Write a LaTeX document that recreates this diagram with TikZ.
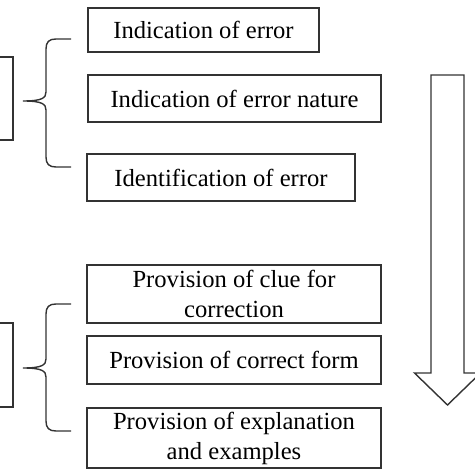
\documentclass[tikz,border=0pt]{standalone}
\usepackage{fontspec}
\setmainfont{Liberation Serif}
\usepackage{tikz}
\usetikzlibrary{shapes, positioning}

\begin{document}
\begin{tikzpicture}[x=0.5pt, y=-0.5pt,
        stage/.style={rectangle, draw=black!80, line width=0.7pt, inner sep=0pt, align=center,
            font=\fontsize{12.3}{15}\selectfont},
        stub/.style={rectangle, draw=black!80, line width=0.7pt, minimum width=21.5pt},
        curly/.style={draw=black!80, line width=0.7pt}]
        \useasboundingbox (0, 0) rectangle (474, 474);

        \node[stage, minimum width=115.5pt, minimum height=22pt] (indicate) at (203.5, 30) {Indication of error};
        \node[stage, minimum width=146.5pt, minimum height=23.5pt] (nature) at (234.5, 98.5) {Indication of error nature};
        \node[stage, minimum width=134pt, minimum height=23.5pt] (identify) at (221, 177.5) {Identification of error};
        \node[stage, minimum width=147pt, minimum height=29pt] (clue) at (234, 294) {Provision of clue for\\correction};
        \node[stage, minimum width=147pt, minimum height=24pt] (form) at (234, 360) {Provision of correct form};
        \node[stage, minimum width=147pt, minimum height=30pt] (explain) at (234, 438) {Provision of explanation\\and examples};

        \node[stub, minimum height=41.5pt] (upper) at (-8.5, 98.5) {};
        \node[stub, minimum height=42pt] (lower) at (-8.5, 365) {};

        % braces
        \draw[curly] (71, 39) -- (56, 39) .. controls (49, 39) and (46, 42) .. (46, 49) -- (46, 92)
            .. controls (46, 98) and (42, 101) .. (23, 101) .. controls (42, 101) and (46, 104) .. (46, 110)
            -- (46, 157) .. controls (46, 164) and (49, 167) .. (56, 167) -- (71, 167);
        \draw[curly] (71, 304) -- (56, 304) .. controls (49, 304) and (46, 307) .. (46, 314) -- (46, 359)
            .. controls (46, 365) and (42, 368) .. (23, 368) .. controls (42, 368) and (46, 371) .. (46, 377)
            -- (46, 421) .. controls (46, 428) and (49, 431) .. (56, 431) -- (71, 431);

        \draw[curly] (431, 75) -- (464, 75) -- (464, 373) -- (480.5, 373)
            -- (447.5, 405) -- (414.5, 373) -- (431, 373) -- cycle;
    \end{tikzpicture}
\end{document}
